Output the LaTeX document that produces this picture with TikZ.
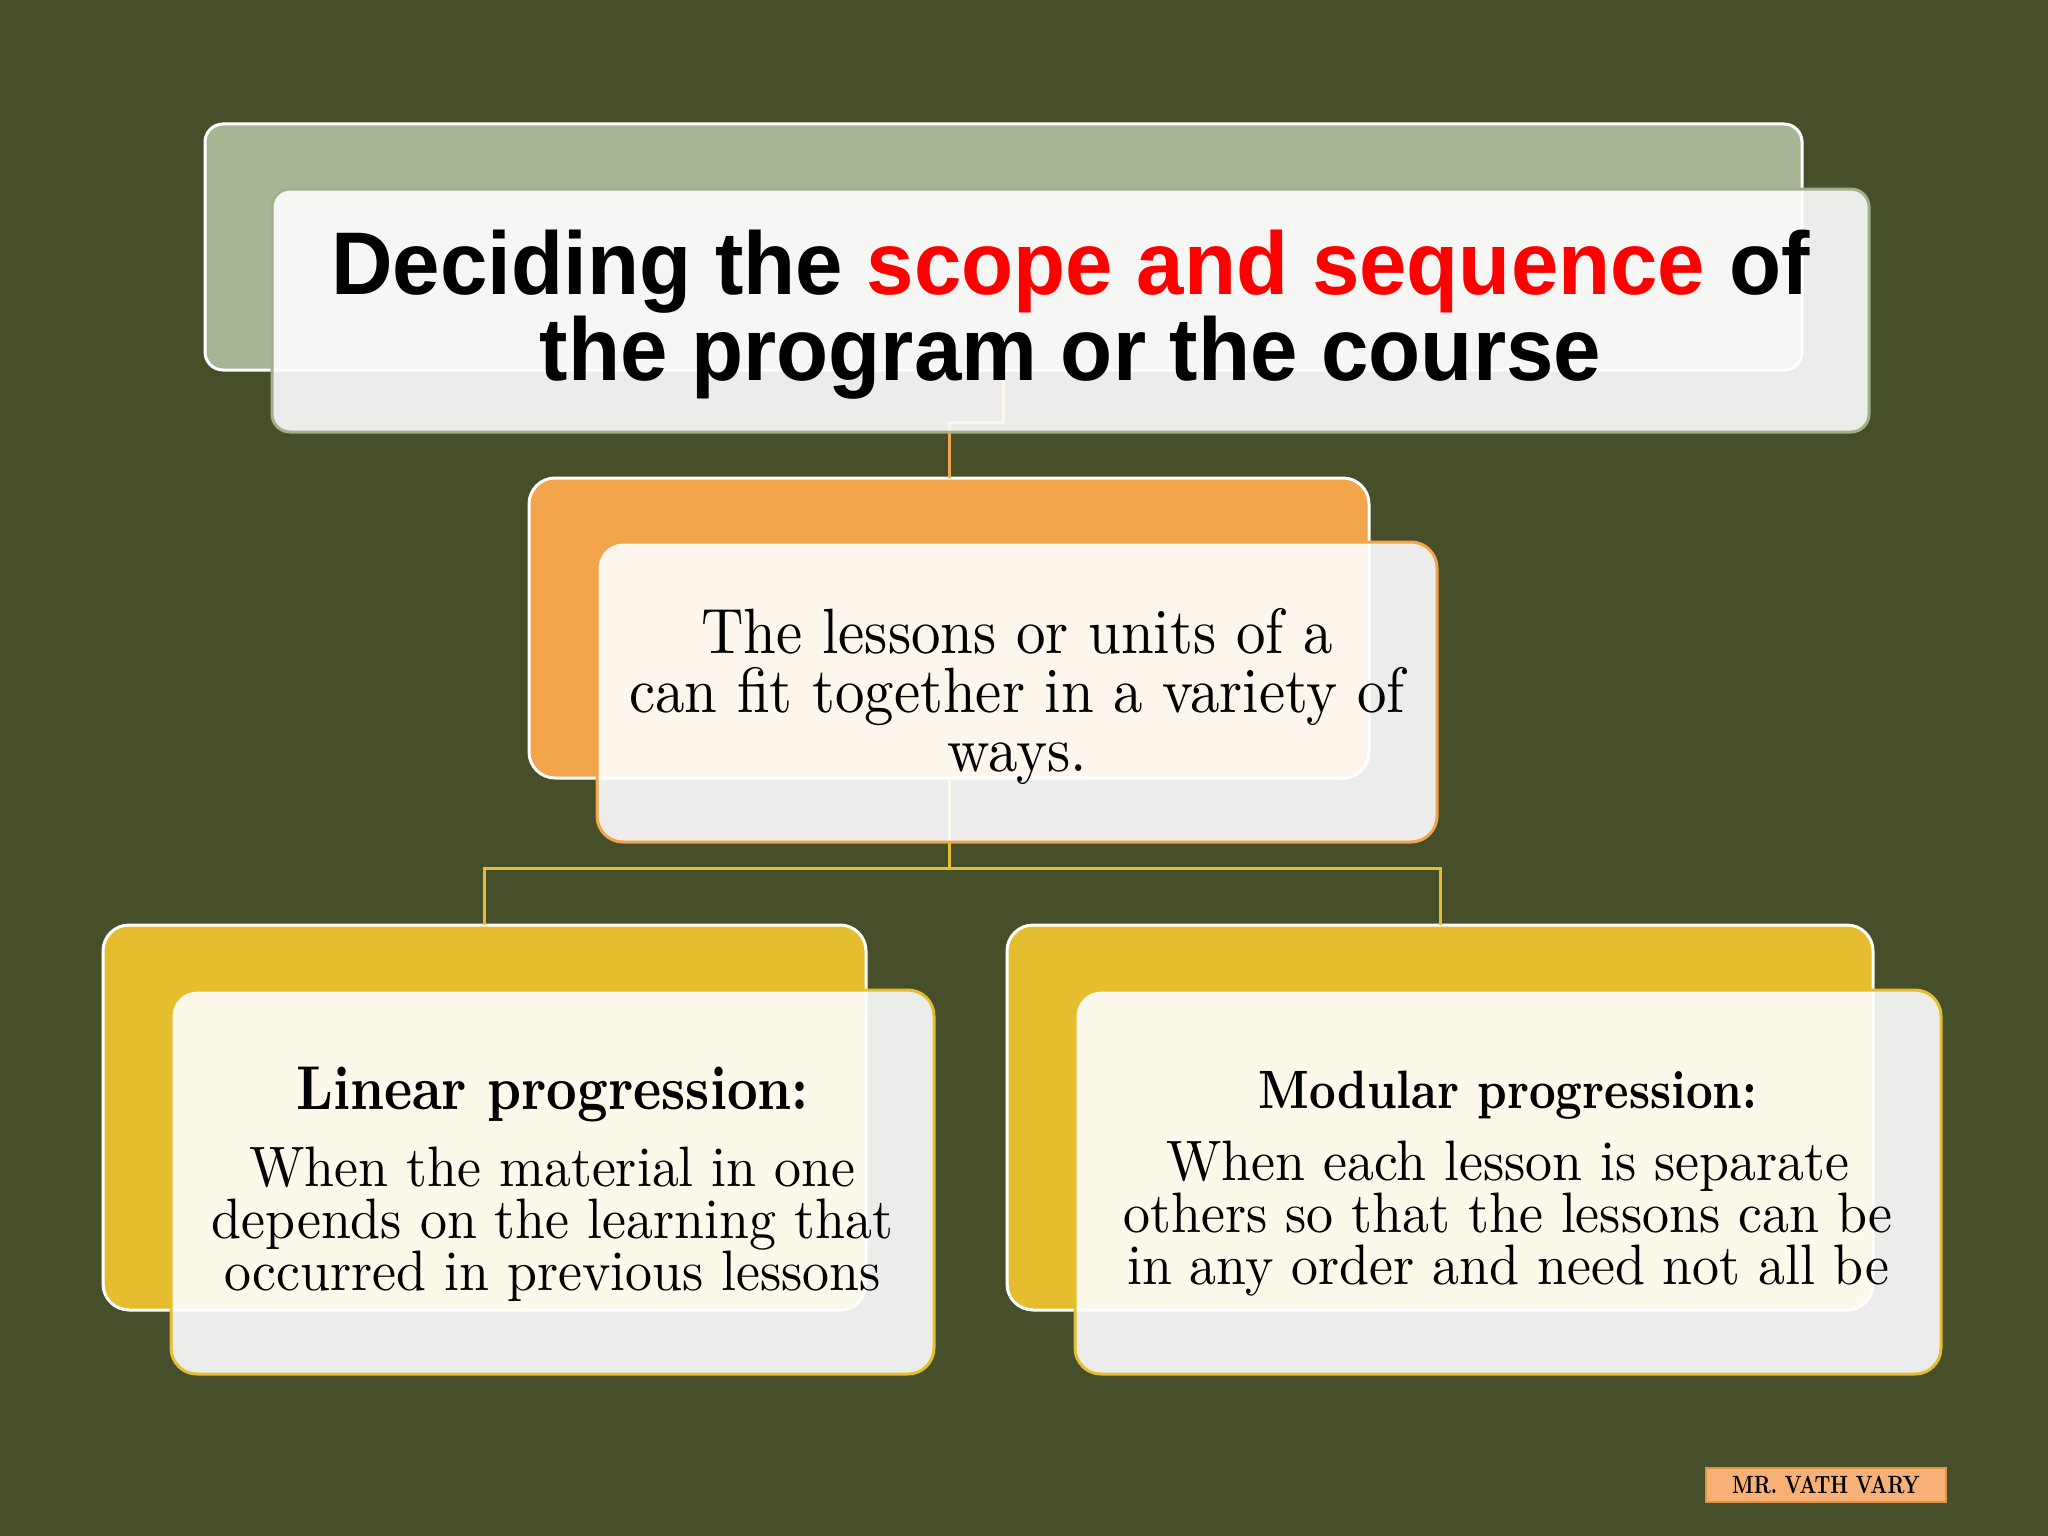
\documentclass[tikz,border=0pt]{standalone}
\usepackage{fontspec}
\newfontfamily\titlefont{Liberation Sans}[FakeStretch=0.958]
\newfontfamily\bodyfont{lmroman10-regular.otf}[FakeStretch=0.92]
\newfontfamily\bodyfontB{lmroman10-regular.otf}[FakeStretch=0.945]
\newfontfamily\headfont{lmroman10-bold.otf}[FakeStretch=0.86]
\newfontfamily\labelfont{lmroman10-bold.otf}[FakeStretch=0.79]
\definecolor{bg}{RGB}{70,79,41}
\definecolor{sage}{RGB}{167,181,148}
\definecolor{sageline}{RGB}{160,176,138}
\definecolor{orangeA}{RGB}{242,165,74}
\definecolor{goldA}{RGB}{228,190,46}
\definecolor{redT}{RGB}{255,0,0}
\definecolor{labelfill}{RGB}{247,177,118}
\definecolor{labeldraw}{RGB}{222,150,70}
\tikzset{
  backbox/.style={draw=white, line width=3pt, rounded corners=26pt, inner sep=0pt, outer sep=0pt},
  frontbox/.style={fill=white, fill opacity=0.9, line width=3pt, rounded corners=26pt, inner sep=0pt, outer sep=0pt},
  conn/.style={line width=3pt},
  titletext/.style={inner sep=0pt, align=center, font=\titlefont\bfseries\fontsize{89}{86}\selectfont},
  midtext/.style={inner sep=0pt, align=center, font=\bodyfont\fontsize{64}{59}\selectfont},
  headtext/.style={inner sep=0pt, anchor=base, font=\headfont\fontsize{62}{62}\selectfont},
  bodytext/.style={inner sep=0pt, align=center, font=\bodyfontB\fontsize{57}{52}\selectfont},
}
\begin{document}
\begin{tikzpicture}[x=1pt,y=-1pt]
\fill[bg] (0,0) rectangle (2048,1536);
\useasboundingbox (0,0) rectangle (2048,1536);
% back boxes
\node[backbox, fill=sage, rounded corners=18pt, minimum width=1597pt, minimum height=246pt] (tb) at (1003.5,247) {};
\node[backbox, fill=orangeA, minimum width=840pt, minimum height=300pt] (mb) at (949,628) {};
\node[backbox, fill=goldA, minimum width=763pt, minimum height=385pt] (lb) at (484.5,1117.5) {};
\node[backbox, fill=goldA, minimum width=866pt, minimum height=385pt] (rb) at (1440,1117.5) {};
% connectors
\draw[conn, draw=orangeA] (tb.south) -- ++(0,52) -| (mb.north);
\draw[conn, draw=goldA] (mb.south) -- ++(0,90) -| (lb.north);
\draw[conn, draw=goldA] (mb.south) -- ++(0,90) -| (rb.north);
% front boxes
\node[frontbox, draw=sageline, rounded corners=18pt, minimum width=1597pt, minimum height=243pt] (tf) at (1070.5,310.5) {};
\node[frontbox, draw=orangeA, minimum width=840pt, minimum height=300pt] (mf) at (1017,692) {};
\node[frontbox, draw=goldA, minimum width=763pt, minimum height=384pt] (lf) at (552.5,1182) {};
\node[frontbox, draw=goldA, minimum width=866pt, minimum height=384pt] (rf) at (1508,1182) {};
% texts
\node[titletext] (ttext) at (1070.5,315) {Deciding the \textcolor{redT}{scope and sequence} of\\the program or the course};
\node[midtext] (mtext) at (1017,696) {The lessons or units of a\\can fit together in a variety of\\ways.};
\node[headtext] (lhead) at (552.5,1109) {Linear progression:};
\node[bodytext] (ltext) at (552.5,1224) {When the material in one\\depends on the learning that\\occurred in previous lessons};
\node[headtext, font=\headfont\fontsize{54}{54}\selectfont] (rhead) at (1508,1108) {Modular progression:};
\node[bodytext] (rtext) at (1508,1219) {When each lesson is separate\\others so that the lessons can be\\in any order and need not all be};
% label
\node[draw=labeldraw, fill=labelfill, line width=2pt, minimum width=240pt, minimum height=34pt, inner sep=0pt, font=\labelfont\fontsize{25}{25}\selectfont] (lab) at (1826,1485) {MR. VATH VARY};
\end{tikzpicture}
\end{document}
